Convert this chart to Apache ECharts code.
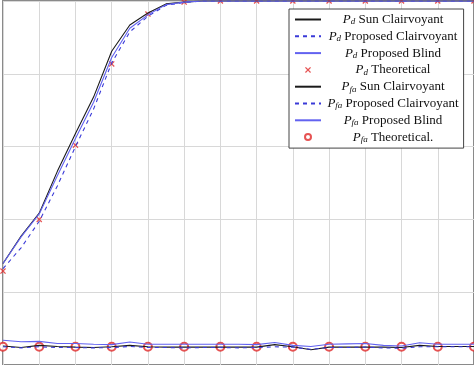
<!DOCTYPE html>
<html>
<head>
<meta charset="utf-8">
<script src="https://cdn.jsdelivr.net/npm/echarts@6/dist/echarts.min.js"></script>
<style>
  html, body { margin: 0; padding: 0; background: #fff; }
  #chart { width: 474px; height: 365px; }
</style>
</head>
<body>
<div id="chart"></div>
<script>
// x positions of the simulated curves (half steps) and of the theoretical marks
const xFine = [0, 0.5, 1, 1.5, 2, 2.5, 3, 3.5, 4, 4.5, 5, 5.5, 6, 6.5, 7, 7.5, 8, 8.5, 9, 9.5, 10, 10.5, 11, 11.5, 12, 12.5, 13];
const xInt = [0, 1, 2, 3, 4, 5, 6, 7, 8, 9, 10, 11, 12, 13];

// detection probability
const pdSun = [0.279, 0.354, 0.417, 0.532, 0.636, 0.736, 0.862, 0.934, 0.967, 0.992, 0.997, 1, 1, 1, 1, 1, 1, 1, 1, 1, 1, 1, 1, 1, 1, 1, 1];
const pdPropClair = [0.265, 0.322, 0.395, 0.492, 0.600, 0.703, 0.830, 0.915, 0.958, 0.988, 0.996, 1, 1, 1, 1, 1, 1, 1, 1, 1, 1, 1, 1, 1, 1, 1, 1];
const pdPropBlind = [0.279, 0.352, 0.415, 0.520, 0.622, 0.722, 0.845, 0.925, 0.962, 0.990, 0.997, 1, 1, 1, 1, 1, 1, 1, 1, 1, 1, 1, 1, 1, 1, 1, 1];
const pdTheory = [0.258, 0.400, 0.604, 0.827, 0.964, 0.997, 1, 1, 1, 1, 1, 1, 1, 1];

// false alarm probability
const pfaSun = [0.052, 0.048, 0.054, 0.051, 0.049, 0.048, 0.050, 0.054, 0.050, 0.049, 0.049, 0.049, 0.049, 0.049, 0.049, 0.056, 0.050, 0.042, 0.049, 0.049, 0.049, 0.049, 0.048, 0.054, 0.051, 0.051, 0.051];
const pfaPropClair = [0.050, 0.047, 0.050, 0.048, 0.048, 0.047, 0.048, 0.051, 0.048, 0.048, 0.047, 0.048, 0.048, 0.047, 0.048, 0.050, 0.049, 0.043, 0.048, 0.048, 0.049, 0.047, 0.046, 0.050, 0.050, 0.050, 0.050];
const pfaPropBlind = [0.068, 0.064, 0.065, 0.059, 0.059, 0.057, 0.056, 0.063, 0.057, 0.057, 0.057, 0.057, 0.057, 0.057, 0.056, 0.062, 0.054, 0.051, 0.057, 0.058, 0.059, 0.054, 0.052, 0.061, 0.057, 0.057, 0.057];
const pfaTheory = [0.05, 0.05, 0.05, 0.05, 0.05, 0.05, 0.05, 0.05, 0.05, 0.05, 0.05, 0.05, 0.05, 0.05];

const legendNames = [
    "d|Sun Clairvoyant",
    "d|Proposed Clairvoyant",
    "d|Proposed Blind",
    "d|Theoretical",
    "fa|Sun Clairvoyant",
    "fa|Proposed Clairvoyant",
    "fa|Proposed Blind",
    "fa|Theoretical."
];

const BLACK = "#1a1a1a";
const BLUE_DASH = "#3a3ad8";
const BLUE = "#6262f0";
const RED = "#e02828";
const CROSS = "path://M0,1.5L1.5,0L5,3.5L8.5,0L10,1.5L6.5,5L10,8.5L8.5,10L5,6.5L1.5,10L0,8.5L3.5,5Z";

const pair = (xs, ys) => xs.map((x, i) => [x, ys[i]]);

function lineSeries(name, xs, ys, color, type) {
    return {
        name: name,
        type: "line",
        data: pair(xs, ys),
        symbol: "none",
        lineStyle: { color: color, width: 1.1, type: type },
        itemStyle: { color: color },
        animation: false
    };
}

// line entries in the legend: keep the line, hide the symbol dot
const legendData = legendNames.map((name, i) =>
    (i === 3 || i === 7) ? { name: name } : { name: name, itemStyle: { opacity: 0 } }
);

const chart = echarts.init(document.getElementById("chart"));

chart.setOption({
    backgroundColor: "#fff",
    grid: {
        left: 3, top: 1, width: 490, height: 364,
        show: true, borderColor: "#8a8a8a", borderWidth: 2
    },
    xAxis: {
        type: "value",
        min: 0, max: 13, interval: 1,
        axisLine: { show: false },
        axisTick: { show: false },
        axisLabel: { show: false },
        splitLine: { lineStyle: { color: "#d8d8d8", width: 1 } }
    },
    yAxis: {
        type: "value",
        min: 0, max: 1, interval: 0.2,
        axisLine: { show: false },
        axisTick: { show: false },
        axisLabel: { show: false },
        splitLine: { lineStyle: { color: "#d8d8d8", width: 1 } }
    },
    legend: {
        orient: "vertical",
        left: 289, top: 9,
        padding: [4, 5, 4, 5],
        backgroundColor: "#fff",
        borderColor: "#444",
        borderWidth: 1,
        borderRadius: 0,
        itemWidth: 26,
        itemHeight: 6,
        itemGap: 3.3,
        data: legendData,
        formatter: function (name) {
            const parts = name.split("|");
            return "{p|P}{s|" + parts[0] + "}{t| " + parts[1] + "}";
        },
        textStyle: {
            width: 134,
            fontFamily: "Liberation Serif",
            color: "#111",
            rich: {
                p: { fontFamily: "Liberation Serif", fontStyle: "italic", fontSize: 13, lineHeight: 14, align: "center", color: "#111" },
                s: { fontFamily: "Liberation Serif", fontStyle: "italic", fontSize: 9, lineHeight: 9, verticalAlign: "bottom", align: "center", color: "#111" },
                t: { fontFamily: "Liberation Serif", fontSize: 13, lineHeight: 14, align: "center", color: "#111" }
            }
        }
    },
    series: [
        lineSeries(legendNames[0], xFine, pdSun, BLACK, "solid"),
        lineSeries(legendNames[1], xFine, pdPropClair, BLUE_DASH, [4, 4]),
        lineSeries(legendNames[2], xFine, pdPropBlind, BLUE, "solid"),
        {
            name: legendNames[3],
            type: "scatter",
            data: pair(xInt, pdTheory),
            symbol: CROSS,
            symbolSize: 6,
            itemStyle: { color: RED },
            animation: false
        },
        lineSeries(legendNames[4], xFine, pfaSun, BLACK, "solid"),
        lineSeries(legendNames[5], xFine, pfaPropClair, BLUE_DASH, [4, 4]),
        lineSeries(legendNames[6], xFine, pfaPropBlind, BLUE, "solid"),
        {
            name: legendNames[7],
            type: "scatter",
            data: pair(xInt, pfaTheory),
            symbol: "emptyCircle",
            symbolSize: 8,
            itemStyle: { color: RED, borderWidth: 1.2 },
            animation: false
        }
    ]
});
</script>
</body>
</html>
